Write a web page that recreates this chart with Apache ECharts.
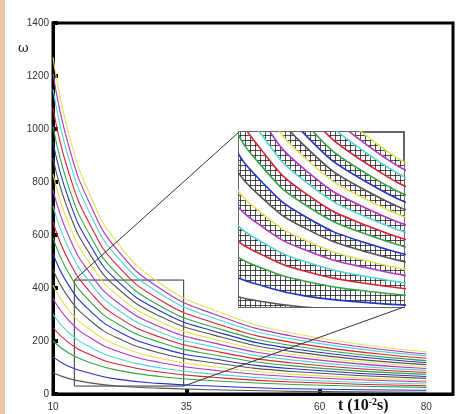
<!DOCTYPE html>
<html><head><meta charset="utf-8">
<script src="https://cdn.jsdelivr.net/npm/echarts@6/dist/echarts.min.js"></script>
<style>html,body{margin:0;background:#fff}#main{width:474px;height:414px}</style>
</head><body><div id="main"></div>
<script>
// sample times (10^-2 s)
var tValues = [10, 13, 17, 22, 30, 40, 55, 80];
// omega curves, top to bottom
var curves = [
  [1270,978,749,572,419,318,229,159],
  [1210,932,714,545,399,303,218,151],
  [1150,886,679,518,380,288,207,144],
  [1080,832,637,486,356,270,194,135],
  [1010,778,596,455,333,253,182,126],
  [950,732,561,428,314,238,171,119],
  [890,685,525,401,294,223,160,111],
  [830,639,490,374,274,208,149,104],
  [770,593,454,347,254,193,139,96],
  [710,547,419,320,234,178,128,89],
  [650,501,384,293,215,163,117,81],
  [590,454,348,266,195,148,106,74],
  [530,408,313,239,175,133,95,66],
  [470,362,277,212,155,118,85,59],
  [410,316,242,185,135,103,74,51],
  [360,277,212,162,119,90,65,45],
  [300,231,177,135,99,75,54,38],
  [250,193,148,113,83,63,45,31],
  [200,154,118,90,66,50,36,25],
  [140,104,78,56,40,30,20,14],
  [80,58,42,30,22,16,10,6]
];
var palette = ['#e2e25a', '#b535c5', '#55d5d5', '#d52535', '#35a545', '#2535c0', '#555555'];
var xLabels = [10, 35, 60, 80];
var zoomBox = {t0: 14, t1: 34.5, w0: 30, w1: 430};

// crosshatch pattern for the inset bands
var hatch = document.createElement('canvas');
hatch.width = 5; hatch.height = 5;
var hc = hatch.getContext('2d');
hc.fillStyle = '#fff'; hc.fillRect(0, 0, 5, 5);
hc.strokeStyle = '#222'; hc.lineWidth = 0.8;
hc.beginPath(); hc.moveTo(0, 0.5); hc.lineTo(5, 0.5); hc.moveTo(0.5, 0); hc.lineTo(0.5, 5); hc.stroke();

var chart = echarts.init(document.getElementById('main'));
var series = [];
curves.forEach(function (c, i) {
  var d = c.map(function (v, j) { return [tValues[j], v]; });
  var col = palette[i % palette.length];
  series.push({type: 'line', xAxisIndex: 0, yAxisIndex: 0, data: d, smooth: true, symbol: 'none',
    lineStyle: {width: 1.1, color: col}, z: 2});
});
// inset: areas painted top to bottom, hatched and white alternating
curves.forEach(function (c, i) {
  var d = c.map(function (v, j) { return [tValues[j], v]; });
  series.push({type: 'line', xAxisIndex: 1, yAxisIndex: 1, data: d, smooth: true, symbol: 'none',
    lineStyle: {width: 0}, z: 11,
    areaStyle: {origin: 'start', opacity: 1, color: i % 2 === 0 ? {image: hatch, repeat: 'repeat'} : '#fff'}});
});
curves.forEach(function (c, i) {
  var d = c.map(function (v, j) { return [tValues[j], v]; });
  series.push({type: 'line', xAxisIndex: 1, yAxisIndex: 1, data: d, smooth: true, symbol: 'none',
    lineStyle: {width: 1.6, color: palette[i % palette.length]}, z: 14});
});
series[0].markArea = {silent: true, itemStyle: {color: 'rgba(0,0,0,0)', borderColor: '#333', borderWidth: 1},
  data: [[{coord: [zoomBox.t0, zoomBox.w0]}, {coord: [zoomBox.t1, zoomBox.w1]}]]};

chart.setOption({
  animation: false,
  grid: [
    {left: 53, top: 23, width: 400, height: 371, show: true, borderColor: '#000', borderWidth: 3},
    {left: 239, top: 132, width: 165, height: 175, show: true, backgroundColor: '#fff', borderColor: '#333', borderWidth: 1.5, z: 10}
  ],
  xAxis: [
    {type: 'value', gridIndex: 0, min: 10, max: 85, splitLine: {show: false},
      axisLine: {lineStyle: {color: '#000', width: 3}},
      axisTick: {customValues: [35, 60], inside: true, length: 5, lineStyle: {width: 4, color: '#000'}},
      axisLabel: {customValues: xLabels, color: '#333', fontSize: 10, fontFamily: 'Liberation Sans', margin: 8}},
    {type: 'value', gridIndex: 1, min: zoomBox.t0, max: zoomBox.t1, show: false}
  ],
  yAxis: [
    {type: 'value', gridIndex: 0, min: 0, max: 1400, interval: 200, splitLine: {show: false},
      axisLine: {show: true, lineStyle: {color: '#000', width: 3}},
      axisTick: {inside: true, length: 5, lineStyle: {width: 4, color: '#000'}},
      axisLabel: {color: '#333', fontSize: 10, fontFamily: 'Liberation Sans', margin: 4,
        formatter: function (v) { return String(v); }}},
    {type: 'value', gridIndex: 1, min: zoomBox.w0, max: zoomBox.w1, show: false}
  ],
  series: series
});

// connector lines between zoom rectangle and inset
var p1 = chart.convertToPixel({gridIndex: 0}, [zoomBox.t0, zoomBox.w1]);
var p2 = chart.convertToPixel({gridIndex: 0}, [zoomBox.t1, zoomBox.w0]);
var q1 = chart.convertToPixel({gridIndex: 1}, [zoomBox.t0, zoomBox.w1]);
var q2 = chart.convertToPixel({gridIndex: 1}, [zoomBox.t1, zoomBox.w0]);
chart.setOption({graphic: [
  {type: 'line', shape: {x1: p1[0], y1: p1[1], x2: q1[0], y2: q1[1]}, style: {stroke: '#333', lineWidth: 1}, z: 5},
  {type: 'line', shape: {x1: p2[0], y1: p2[1], x2: q2[0], y2: q2[1]}, style: {stroke: '#333', lineWidth: 1}, z: 5},
  {type: 'text', left: 18, top: 42, style: {text: 'ω', font: '13px "DejaVu Serif"', fill: '#222'}},
  {type: 'text', left: 338, top: 397, style: {text: '{a|t (10}{b|-2}{a|s)}', rich: {
    a: {font: 'bold 16px "Liberation Serif"', fill: '#111'},
    b: {font: 'bold 10px "Liberation Serif"', fill: '#111', verticalAlign: 'top', padding: [0, 0, 8, 0]}}}},
  {type: 'rect', shape: {x: 0, y: 0, width: 5, height: 414}, style: {fill: '#e8c4a8'}}
]});
</script></body></html>
